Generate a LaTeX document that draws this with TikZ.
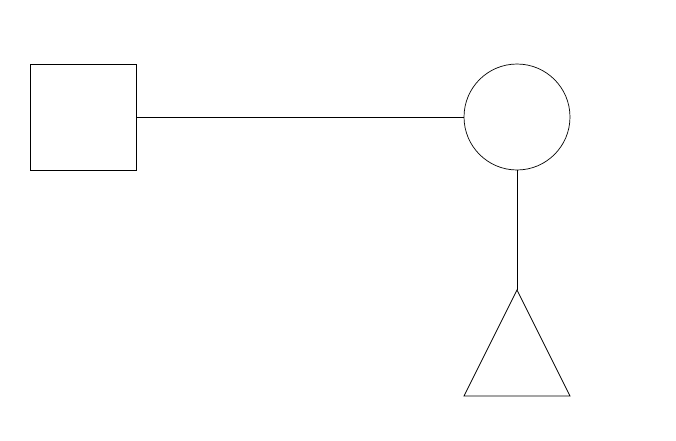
\documentclass[tikz,border=0pt]{standalone}
\tikzset{box/.style={draw,rectangle,minimum size=2.12cm,inner sep=0},
ring/.style={draw,circle,minimum size=2.12cm,inner sep=0},
link/.style={line cap=rect}}

\begin{document}
\begin{tikzpicture}[x=0.02cm,y=-0.02cm,thin]
\useasboundingbox (0,0) rectangle (676,440);

%% Coordinates of nodes.
\node [box] (sq) at (83,117) {};
\node [ring] (circ) at (517,117) {};
\coordinate (apex) at (517,290);
\coordinate (baseL) at (464,396);
\coordinate (baseR) at (570,396);

%% triangle
\draw (apex) -- (baseL) -- (baseR) -- cycle;

%% connecting lines
\draw (sq.east) -- (circ.west);
\draw (circ.south) -- (apex);

\end{tikzpicture}
\end{document}
